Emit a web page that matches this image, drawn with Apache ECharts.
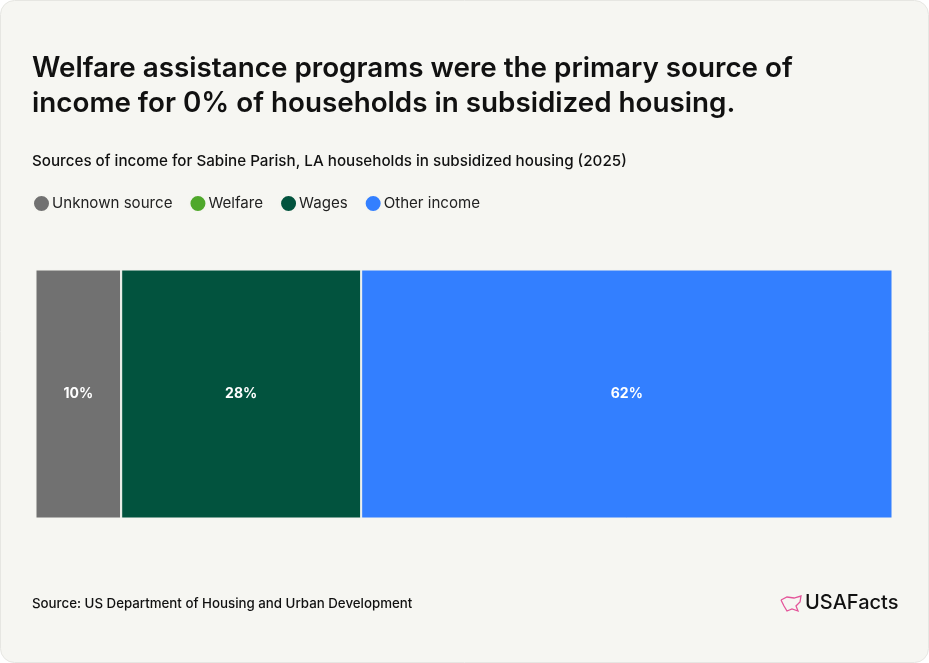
<!DOCTYPE html>
<html>
<head>
<meta charset="utf-8">
<script src="https://cdn.jsdelivr.net/npm/echarts@6/dist/echarts.min.js"></script>
<style>
  html, body { margin: 0; padding: 0; background: #ffffff; }
  #chart { width: 929px; height: 663px; }
</style>
</head>
<body>
<div id="chart"></div>
<script>
(function(){
    var categories = ['Sabine Parish, LA'];
    var seriesNames = ['Unknown source', 'Welfare', 'Wages', 'Other income'];
    var unknownVals = [10];
    var welfareVals = [0];
    var wagesVals = [28];
    var otherVals = [62];
    var colors = ['#717171', '#4fa82b', '#02533e', '#337fff'];

    var chart = echarts.init(document.getElementById('chart'));
    var font = 'Inter, "Noto Sans", sans-serif';

    function barSeries(name, data) {
        return {
            name: name,
            type: 'bar',
            stack: 'total',
            barWidth: '100%',
            data: data,
            itemStyle: { borderColor: '#f5f5f0', borderWidth: 1 },
            label: {
                show: true,
                position: 'inside',
                color: '#ffffff',
                fontFamily: font,
                fontWeight: 'bold',
                fontSize: 14,
                formatter: function(p) { return p.value > 0 ? p.value + '%' : ''; }
            }
        };
    }

    var option = {
        animation: false,
        color: colors,
        graphic: [
            {
                type: 'rect',
                shape: { x: 0.5, y: 0.5, width: 928, height: 662, r: 14 },
                style: { fill: '#f6f6f2', stroke: '#e6e6e2', lineWidth: 1 },
                z: -10
            },
            {
                type: 'text',
                left: 805, top: 593,
                style: { text: 'USAFacts', font: '500 20px ' + font, fill: '#111111' }
            },
            {
                type: 'polyline',
                shape: { points: [[781,600],[787,597],[794,598],[801,596],[800,602],[796,606],[798,611],[792,609],[787,611],[784,606],[781,600]] },
                style: { stroke: '#e4559a', lineWidth: 1.3, fill: 'none' }
            }
        ],
        title: [
            {
                text: 'Welfare assistance programs were the primary source of\nincome for 0% of households in subsidized housing.',
                left: 32, top: 51, padding: 0,
                textStyle: { fontFamily: font, fontSize: 27.8, fontWeight: 600, color: '#111111', lineHeight: 35 }
            },
            {
                text: 'Sources of income for Sabine Parish, LA households in subsidized housing (2025)',
                left: 32, top: 154, padding: 0,
                textStyle: { fontFamily: font, fontSize: 15.2, fontWeight: 500, color: '#111111' }
            },
            {
                text: 'Source: US Department of Housing and Urban Development',
                left: 32, top: 597, padding: 0,
                textStyle: { fontFamily: font, fontSize: 13.3, fontWeight: 500, color: '#111111' }
            }
        ],
        legend: {
            data: seriesNames,
            left: 32, top: 194, padding: 0,
            icon: 'circle',
            itemWidth: 17, itemHeight: 17,
            itemGap: 16,
            selectedMode: false,
            textStyle: { fontFamily: font, fontSize: 15.1, color: '#222222', padding: [0, 0, 0, -3] }
        },
        grid: { left: 35.5, right: 36.5, top: 269.5, height: 249 },
        xAxis: { type: 'value', min: 0, max: 100, show: false },
        yAxis: { type: 'category', data: categories, show: false },
        series: [
            barSeries(seriesNames[0], unknownVals),
            barSeries(seriesNames[1], welfareVals),
            barSeries(seriesNames[2], wagesVals),
            barSeries(seriesNames[3], otherVals)
        ]
    };

    chart.setOption(option);
})();
</script>
</body>
</html>
